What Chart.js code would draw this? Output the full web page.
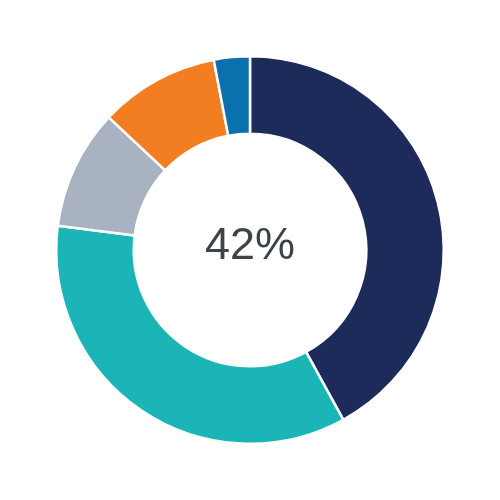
<!DOCTYPE html>
<html>
<head>
<meta charset="utf-8">
<script src="https://cdn.jsdelivr.net/npm/chart.js@4"></script>
<style>
  html, body { margin: 0; padding: 0; background: #fff; }
  #wrap { width: 500px; height: 500px; position: relative; }
</style>
</head>
<body>
<div id="wrap"><canvas id="grafica"></canvas></div>
<script>
"use strict";
/* Datos */
const categorias = ["A", "B", "C", "D", "E"];
const valores = [42, 35, 10, 10, 3];
const colores = ["#1d2b5b", "#1bb5b7", "#a8b2c1", "#f37e21", "#0a70ae"];
const textoCentro = "42%";

/* Texto central */
const textoCentral = {
    id: "textoCentral",
    afterDraw(chart) {
        const ctx = chart.ctx;
        const area = chart.chartArea;
        const x = (area.left + area.right) / 2;
        const y = (area.top + area.bottom) / 2;
        ctx.save();
        ctx.font = "45px 'Liberation Sans', Arial, sans-serif";
        ctx.fillStyle = "#3d4449";
        ctx.textAlign = "center";
        ctx.textBaseline = "middle";
        ctx.fillText(textoCentro, x, y - 3);
        ctx.restore();
    }
};

new Chart(document.getElementById("grafica"), {
    type: "doughnut",
    data: {
        labels: categorias,
        datasets: [{
            data: valores,
            backgroundColor: colores,
            borderColor: "#ffffff",
            borderWidth: 2.5
        }]
    },
    options: {
        responsive: true,
        maintainAspectRatio: false,
        animation: false,
        cutout: "60%",
        layout: { padding: 55 },
        plugins: {
            legend: { display: false },
            tooltip: { enabled: false }
        }
    },
    plugins: [textoCentral]
});
</script>
</body>
</html>
